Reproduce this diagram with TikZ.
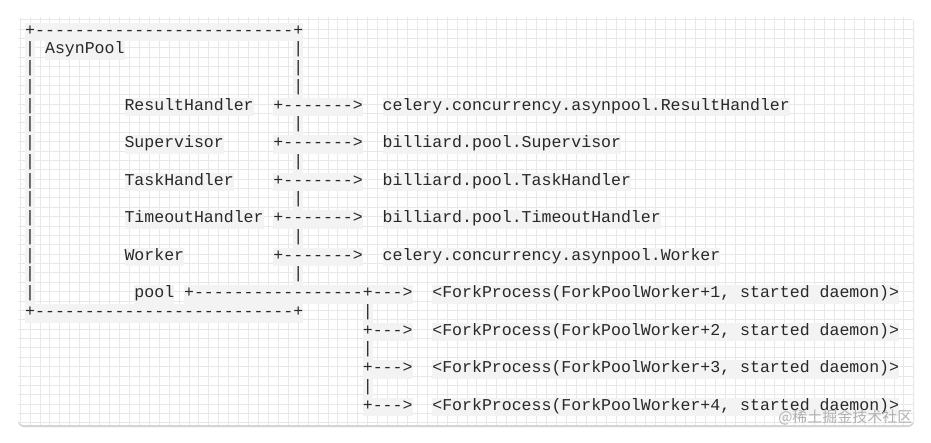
\documentclass[tikz,border=0pt]{standalone}
\usepackage{fontspec}
\setmonofont{Liberation Mono}
\newfontfamily\cjk{Noto Sans CJK SC}
\usetikzlibrary{shadows}
\definecolor{gridc}{RGB}{232,232,232}
\definecolor{segbg}{RGB}{243,243,243}
\definecolor{txt}{RGB}{40,40,40}
\newcommand\seg[3]{\node[seg] at ({30+#2*9.93-4.965},{32+(#1-1)*18.75}) {#3};}
\begin{document}
\begin{tikzpicture}[x=1pt,y=-1pt,
  seg/.style={anchor=west,inner xsep=0pt,inner ysep=0pt,text height=12.5pt,text depth=6.25pt,
    fill=segbg,text=txt,font=\fontsize{16.55pt}{18pt}\ttfamily},
  card/.style={fill=white,rounded corners=6pt,drop shadow={opacity=0.35,shadow xshift=0pt,shadow yshift=-2pt}}]
\useasboundingbox (0,0) rectangle (931,443);
\fill[white] (0,0) rectangle (931,443);
\path[card] (18,17) rectangle (914,425);
\begin{scope}
\clip[rounded corners=6pt] (18,17) rectangle (914,425);
\foreach \i in {0,...,90} \draw[gridc,line width=0.6pt] ({20+\i*9.93},17) -- ({20+\i*9.93},425);
\foreach \j in {0,...,44} \draw[gridc,line width=0.6pt] (18,{19.6+\j*9.375}) -- (914,{19.6+\j*9.375});
\end{scope}
\seg{1}{0}{+--------------------------+}
\seg{2}{0}{|}\seg{2}{2}{AsynPool}\seg{2}{27}{|}
\seg{3}{0}{|}\seg{3}{27}{|}
\seg{4}{0}{|}\seg{4}{27}{|}
\seg{5}{0}{|}\seg{5}{10}{ResultHandler}\seg{5}{25}{+------->}\seg{5}{36}{celery.concurrency.asynpool.ResultHandler}
\seg{6}{0}{|}\seg{6}{27}{|}
\seg{7}{0}{|}\seg{7}{10}{Supervisor}\seg{7}{25}{+------->}\seg{7}{36}{billiard.pool.Supervisor}
\seg{8}{0}{|}\seg{8}{27}{|}
\seg{9}{0}{|}\seg{9}{10}{TaskHandler}\seg{9}{25}{+------->}\seg{9}{36}{billiard.pool.TaskHandler}
\seg{10}{0}{|}\seg{10}{27}{|}
\seg{11}{0}{|}\seg{11}{10}{TimeoutHandler}\seg{11}{25}{+------->}\seg{11}{36}{billiard.pool.TimeoutHandler}
\seg{12}{0}{|}\seg{12}{27}{|}
\seg{13}{0}{|}\seg{13}{10}{Worker}\seg{13}{25}{+------->}\seg{13}{36}{celery.concurrency.asynpool.Worker}
\seg{14}{0}{|}\seg{14}{27}{|}
\seg{15}{0}{|}\seg{15}{11}{pool}\seg{15}{16}{+-----------------+--->}\seg{15}{41}{<ForkProcess(ForkPoolWorker+1, started daemon)>}
\seg{16}{0}{+--------------------------+}\seg{16}{34}{|}
\seg{17}{34}{+--->}\seg{17}{41}{<ForkProcess(ForkPoolWorker+2, started daemon)>}
\seg{18}{34}{|}
\seg{19}{34}{+--->}\seg{19}{41}{<ForkProcess(ForkPoolWorker+3, started daemon)>}
\seg{20}{34}{|}
\seg{21}{34}{+--->}\seg{21}{41}{<ForkProcess(ForkPoolWorker+4, started daemon)>}
\node[anchor=east,text=gray!60,font=\cjk\fontsize{15pt}{16pt}\selectfont] (wm) at (916,417) {@稀土掘金技术社区};
\end{tikzpicture}
\end{document}
